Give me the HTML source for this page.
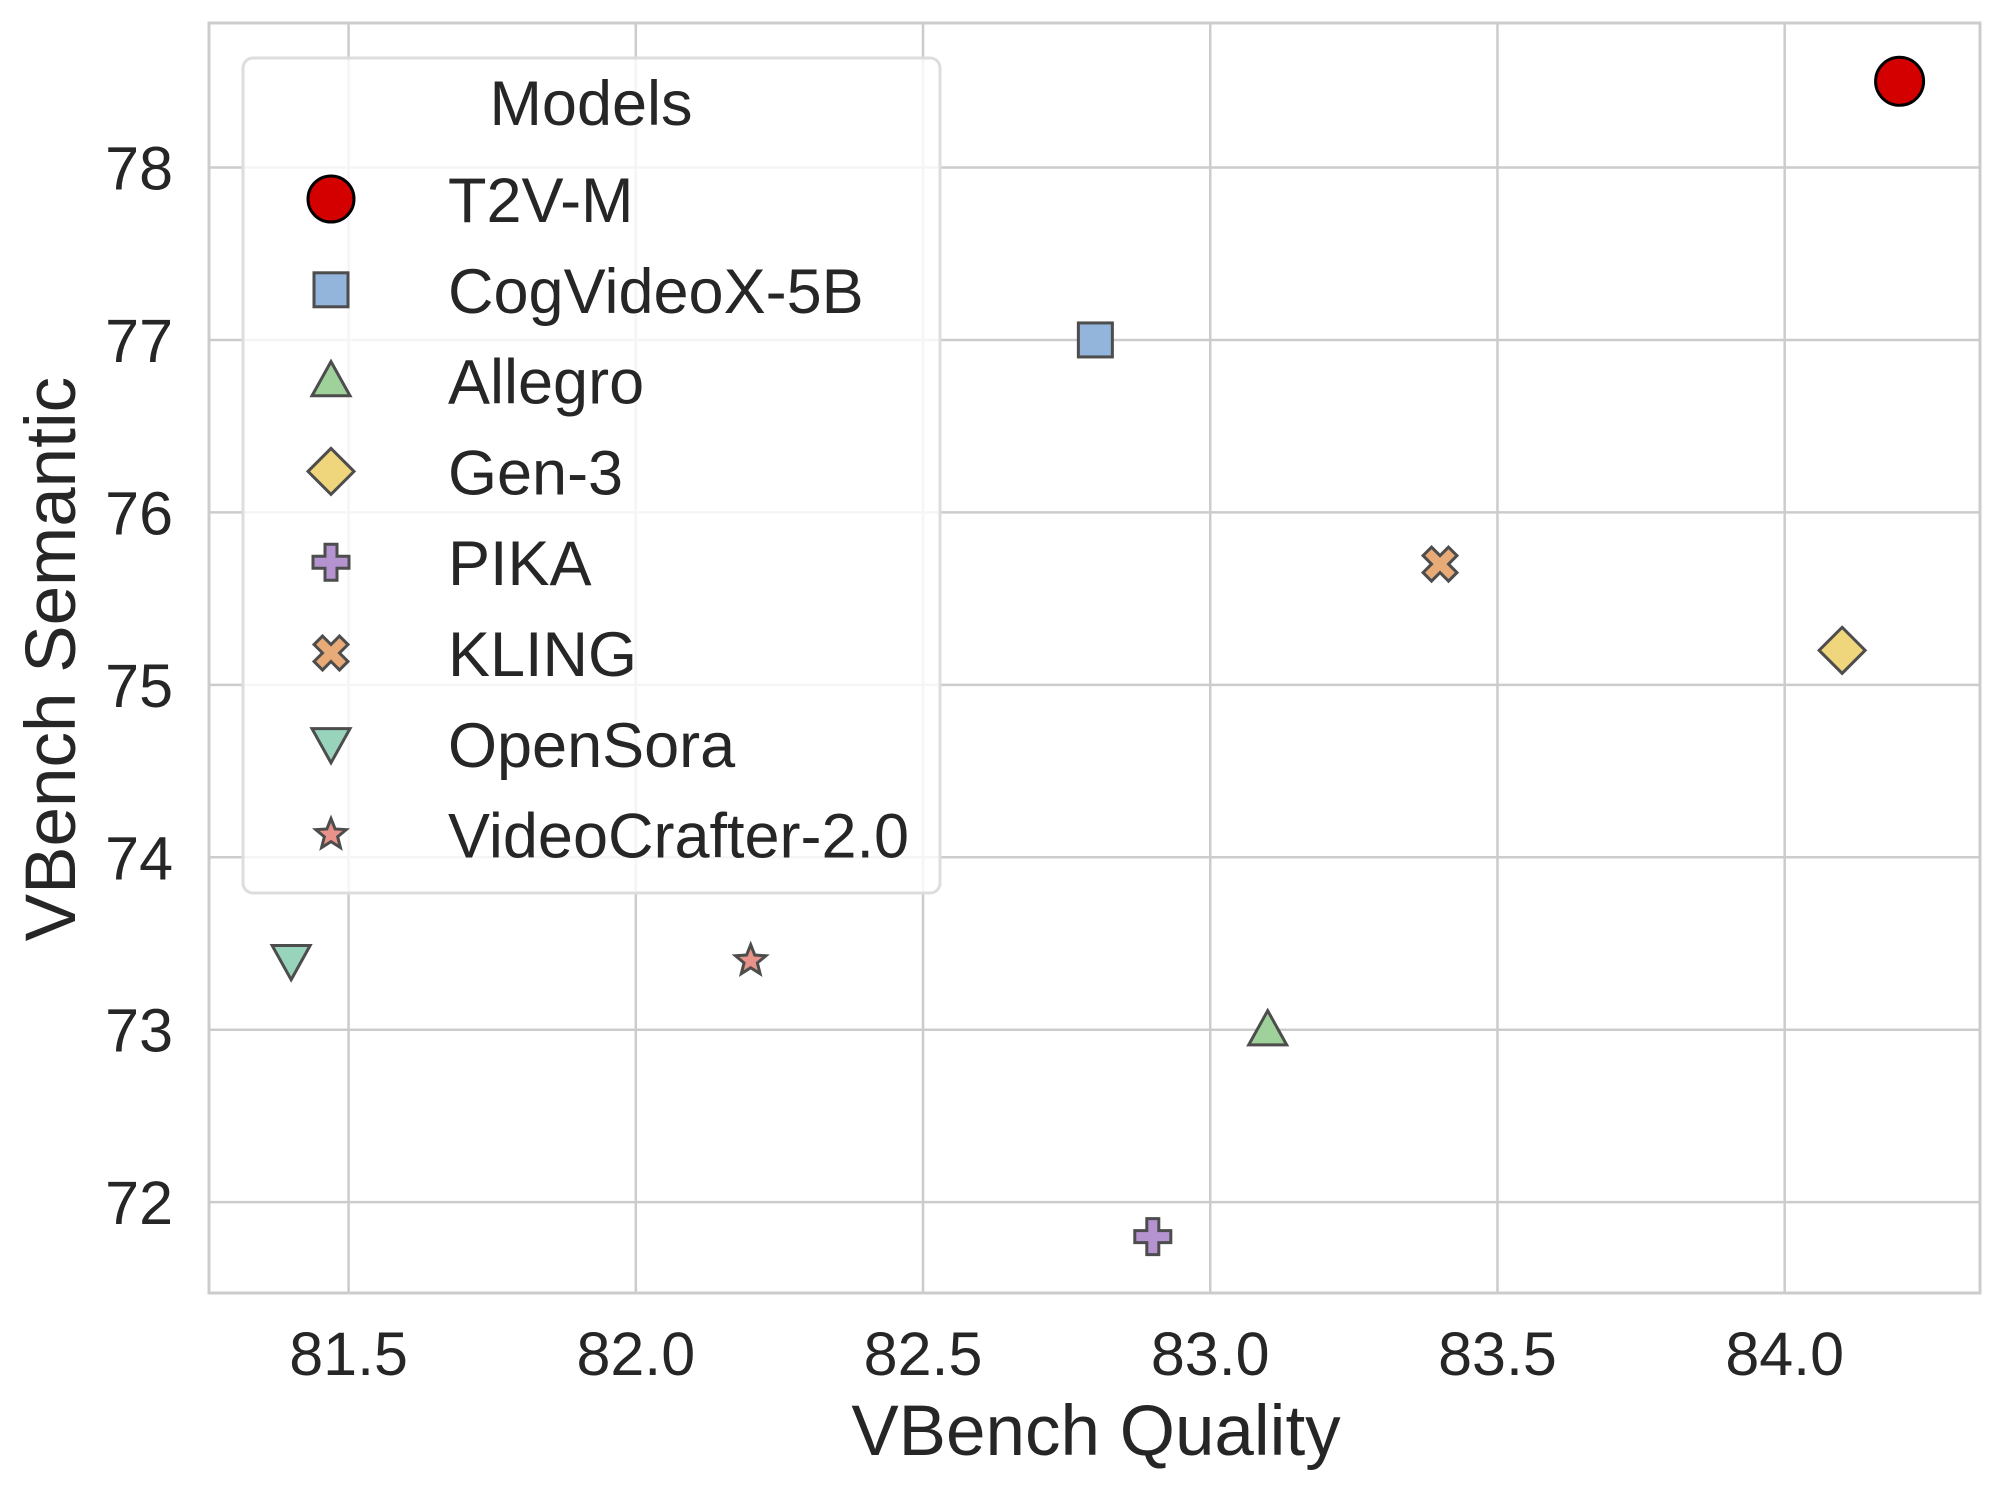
<!DOCTYPE html>
<html><head><meta charset="utf-8"><style>
html,body{margin:0;padding:0;background:#fff;}
svg{display:block;font-family:"Liberation Sans",sans-serif;fill:#262626;}
</style></head><body>
<svg id="chart" width="2005" height="1494" viewBox="0 0 2005 1494">
<g id="grid"></g>
<rect x="209" y="23" width="1771" height="1270" fill="none" stroke="#cccccc" stroke-width="3"/>
<g id="ticks"></g>
<g id="points"></g>
<text x="1096" y="1455" font-size="71" text-anchor="middle">VBench Quality</text>
<text transform="translate(75,659) rotate(-90)" font-size="71" text-anchor="middle">VBench Semantic</text>
<g id="legend">
<rect x="243" y="58" width="697" height="835" rx="10" fill="#ffffff" fill-opacity="0.8" stroke="#dddddd" stroke-width="3"/>
<text x="591" y="125" font-size="63" text-anchor="middle">Models</text>
</g>
</svg>
<script>
const models = ["T2V-M","CogVideoX-5B","Allegro","Gen-3","PIKA","KLING","OpenSora","VideoCrafter-2.0"];
const quality = [84.2, 82.8, 83.1, 84.1, 82.9, 83.4, 81.4, 82.2];
const semantic = [78.5, 77.0, 73.0, 75.2, 71.8, 75.7, 73.4, 73.4];
const xTicks = [81.5, 82.0, 82.5, 83.0, 83.5, 84.0];
const xTickLabels = ["81.5","82.0","82.5","83.0","83.5","84.0"];
const yTicks = [72, 73, 74, 75, 76, 77, 78];
const yTickLabels = ["72","73","74","75","76","77","78"];

const shapes = ["circle","square","triangle","diamond","plus","x","tridown","star"];
const fills = ["#d40000","#93b4db","#9fd29a","#efd67c","#b592d0","#e8ab78","#98d3bc","#e8928a"];
const L=209,R=1980,T=23,B=1293, X0=81.257,X1=84.34,Y0=71.473,Y1=78.838;
const sx=v=>L+(v-X0)/(X1-X0)*(R-L);
const sy=v=>B-(v-Y0)/(Y1-Y0)*(B-T);
const NS="http://www.w3.org/2000/svg";
function mk(tag,attrs,parent){const e=document.createElementNS(NS,tag);for(const k in attrs)e.setAttribute(k,attrs[k]);parent.appendChild(e);return e;}
const grid=document.getElementById('grid'),ticks=document.getElementById('ticks');
xTicks.forEach((v,i)=>{
  const l=mk('line',{x1:sx(v),x2:sx(v),y1:T,y2:B,stroke:'#cccccc','stroke-width':2.5},grid);
  
  
  const t=mk('text',{x:sx(v),y:1375,'font-size':61,'text-anchor':'middle'},ticks);
  t.textContent=xTickLabels[i];
  
  
});
yTicks.forEach((v,i)=>{
  const l=mk('line',{x1:L,x2:R,y1:sy(v),y2:sy(v),stroke:'#cccccc','stroke-width':2.5},grid);
  
  
  const t=mk('text',{x:173,y:sy(v)+22,'font-size':61,'text-anchor':'end'},ticks);
  t.textContent=yTickLabels[i];
  
  
});
function marker(shape,cx,cy,fill,parent,big){
  let e; const edge = shape==="circle" ? "#000" : "#4d4d4d";
  const a={fill:fill,stroke:edge,'stroke-width':3,'stroke-linejoin':'miter'};
  if(shape==="circle"){e=mk('circle',Object.assign({cx,cy,r:big?24:23},a),parent);}
  else if(shape==="square"){const s=17;e=mk('rect',Object.assign({x:cx-s,y:cy-s,width:2*s,height:2*s},a),parent);}
  else if(shape==="triangle"){const s=19;e=mk('polygon',Object.assign({points:`${cx},${cy-s} ${cx+s},${cy+s*0.8} ${cx-s},${cy+s*0.8}`},a),parent);}
  else if(shape==="tridown"){const s=19;e=mk('polygon',Object.assign({points:`${cx},${cy+s} ${cx+s},${cy-s*0.8} ${cx-s},${cy-s*0.8}`},a),parent);}
  else if(shape==="diamond"){const s=23;e=mk('polygon',Object.assign({points:`${cx},${cy-s} ${cx+s},${cy} ${cx},${cy+s} ${cx-s},${cy}`},a),parent);}
  else if(shape==="plus"){const s=18,w=6;e=mk('polygon',Object.assign({points:[[-w,-s],[w,-s],[w,-w],[s,-w],[s,w],[w,w],[w,s],[-w,s],[-w,w],[-s,w],[-s,-w],[-w,-w]].map(p=>(cx+p[0])+','+(cy+p[1])).join(' ')},a),parent);}
  else if(shape==="x"){const s=18,w=6;const pts=[[-w,-s],[w,-s],[w,-w],[s,-w],[s,w],[w,w],[w,s],[-w,s],[-w,w],[-s,w],[-s,-w],[-w,-w]];e=mk('polygon',Object.assign({points:pts.map(p=>{const r=Math.SQRT1_2;return (cx+(p[0]-p[1])*r)+','+(cy+(p[0]+p[1])*r);}).join(' '),},a),parent);}
  else if(shape==="star"){const ro=16,ri=7;let p=[];for(let k=0;k<10;k++){const ang=-Math.PI/2+k*Math.PI/5,r=k%2?ri:ro;p.push((cx+r*Math.cos(ang))+','+(cy+r*Math.sin(ang)));}e=mk('polygon',Object.assign({points:p.join(' ')},a),parent);}
  return e;
}
const pts=document.getElementById('points'),leg=document.getElementById('legend');
models.forEach((m,i)=>{
  const e=marker(shapes[i],sx(quality[i]),sy(semantic[i]),fills[i],pts,true);
  
  
  const y=199+i*90.8;
  const lm=marker(shapes[i],331,y,fills[i],leg,false);
  
  
  const t=mk('text',{x:448,y:y+23,'font-size':63},leg);
  t.textContent=m;
  
  
});
</script>
</body></html>
